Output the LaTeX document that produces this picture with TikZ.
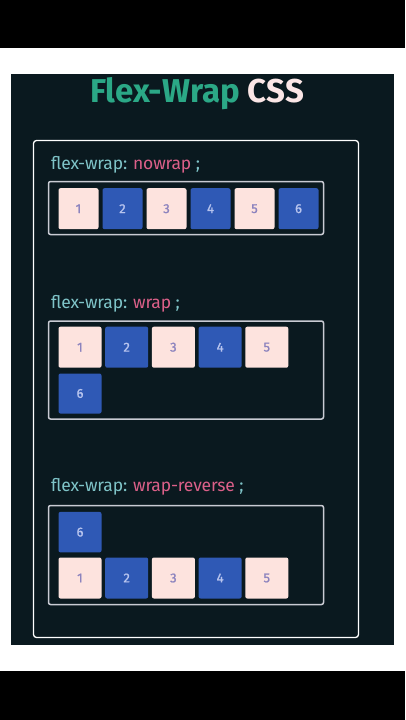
\documentclass[tikz,border=0pt]{standalone}
\usepackage{fontspec}
\setmainfont{Fira Sans}
\begin{document}
\begin{tikzpicture}[x=1pt,y=-1pt,
  frame/.style={draw=white,line width=1.3pt,rounded corners=3pt},
  flexbox/.style={draw=boxgray,line width=1.5pt,rounded corners=2pt},
  numfont/.style={font=\fontsize{13}{15}\selectfont\addfontfeatures{FakeBold=1.2}},
  pinkitem/.style={fill=itempink,rounded corners=2pt,anchor=north west,inner sep=0pt,text=numpink,numfont},
  blueitem/.style={fill=itemblue,rounded corners=2pt,anchor=north west,inner sep=0pt,text=numblue,numfont},
  lbl/.style={anchor=base west,inner sep=0pt,font=\fontsize{17.5}{20}\selectfont\addfontfeatures{LetterSpace=-1}},
]
\definecolor{panelbg}{HTML}{0A191F}
\definecolor{titlegreen}{HTML}{2BA886}
\definecolor{titlepink}{HTML}{FBE6E6}
\definecolor{lblteal}{HTML}{7FC4C8}
\definecolor{lblpink}{HTML}{DC6089}
\definecolor{boxgray}{HTML}{C9CBD3}
\definecolor{itempink}{HTML}{FDE3DE}
\definecolor{itemblue}{HTML}{2F59B5}
\definecolor{numpink}{HTML}{8C83BE}
\definecolor{numblue}{HTML}{B7C4EE}
\useasboundingbox (0,0) rectangle (405,720);
\fill[black] (0,0) rectangle (405,48);
\fill[white] (0,48) rectangle (405,671);
\fill[black] (0,671) rectangle (405,720);
\fill[panelbg] (11,74) rectangle (394,645);
% title
\node[anchor=base,inner sep=0pt,font=\fontsize{33}{38}\selectfont\bfseries] (title) at (197,102)
  {\textcolor{titlegreen}{Flex-Wrap} \textcolor{titlepink}{CSS}};
% frame
\draw[frame] (33.5,140.5) rectangle (358.5,637.5);
% section 1
\node[lbl] (l1) at (51,169) {\textcolor{lblteal}{flex-wrap:} \textcolor{lblpink}{nowrap} \textcolor{lblteal}{;}};
\draw[flexbox] (48.5,181.5) rectangle (323.5,234.5);
\foreach \i/\st in {1/pinkitem,2/blueitem,3/pinkitem,4/blueitem,5/pinkitem,6/blueitem}{
  \node[\st,minimum width=40pt,minimum height=41pt] (a\i) at ({58.3+44*(\i-1)},188) {\i};
}
% section 2
\node[lbl] (l2) at (51,308) {\textcolor{lblteal}{flex-wrap:} \textcolor{lblpink}{wrap} \textcolor{lblteal}{;}};
\draw[flexbox] (48.5,321) rectangle (323.5,419);
\foreach \i/\st in {1/pinkitem,2/blueitem,3/pinkitem,4/blueitem,5/pinkitem}{
  \node[\st,minimum width=43pt,minimum height=41pt] (b\i) at ({58.3+46.7*(\i-1)},326.5) {\i};
}
\node[blueitem,minimum width=43pt,minimum height=40pt] (b6) at (58.3,373.3) {6};
% section 3
\node[lbl] (l3) at (51,491.5) {\textcolor{lblteal}{flex-wrap:} \textcolor{lblpink}{wrap-reverse} \textcolor{lblteal}{;}};
\draw[flexbox] (48.5,505.5) rectangle (323.5,604.5);
\node[blueitem,minimum width=43pt,minimum height=40.5pt] (c6) at (58.3,511.7) {6};
\foreach \i/\st in {1/pinkitem,2/blueitem,3/pinkitem,4/blueitem,5/pinkitem}{
  \node[\st,minimum width=43pt,minimum height=41pt] (c\i) at ({58.3+46.7*(\i-1)},557.3) {\i};
}
\end{tikzpicture}
\end{document}
